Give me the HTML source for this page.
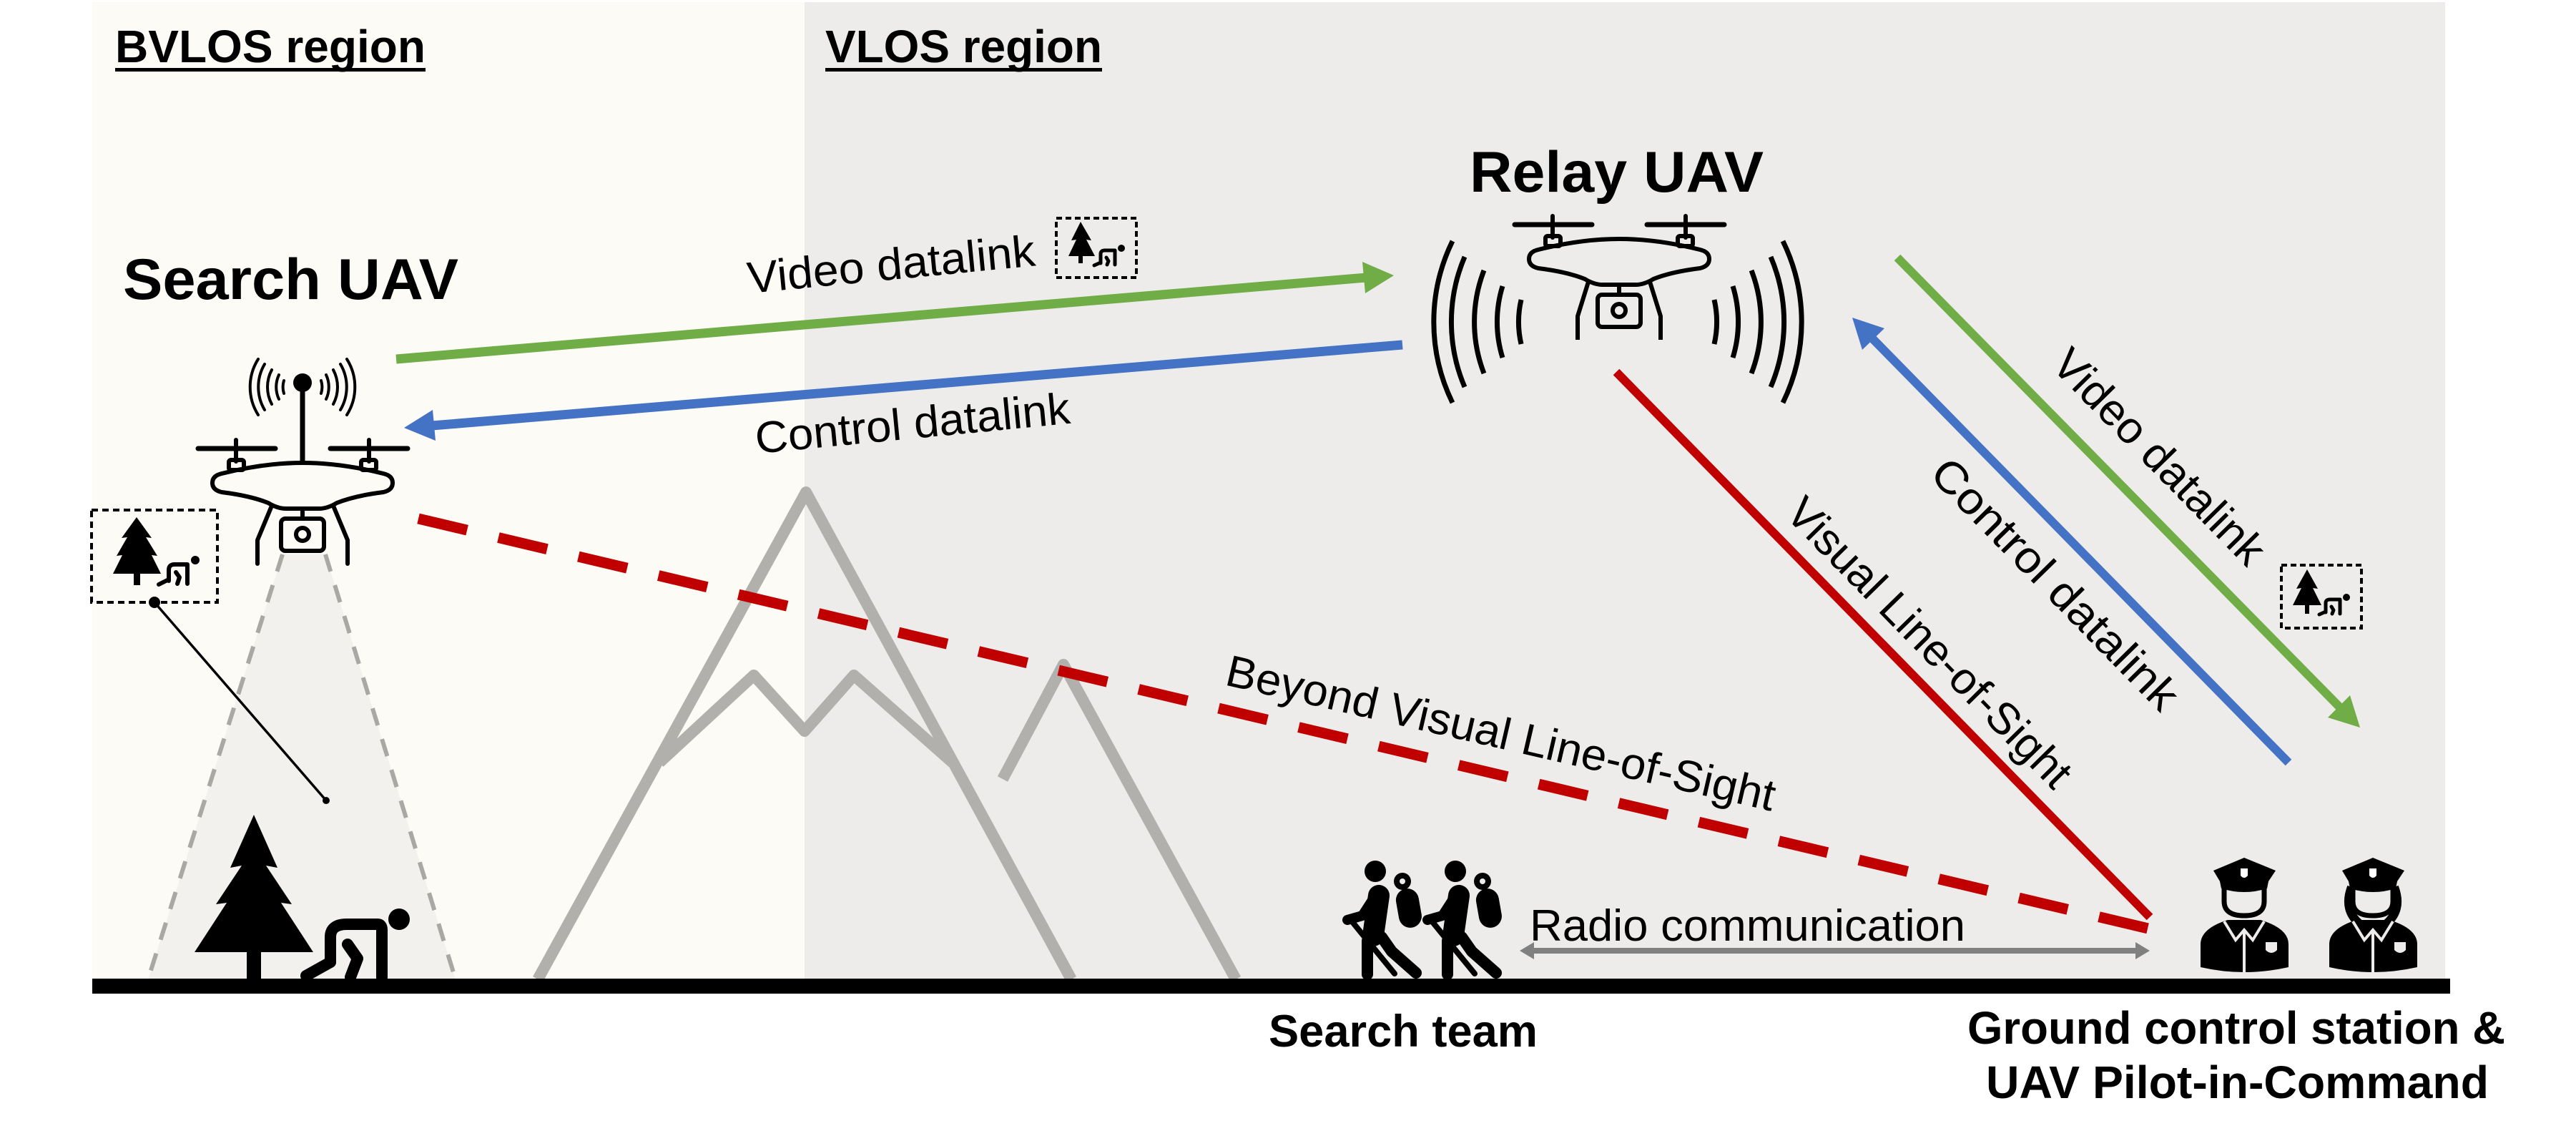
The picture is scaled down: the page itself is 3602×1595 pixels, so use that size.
<!DOCTYPE html>
<html><head><meta charset="utf-8"><style>
html,body{margin:0;padding:0;background:#fff;}
svg{display:block;}
text{font-family:"Liberation Sans",Arial,sans-serif;}
.b{font-weight:bold;}
</style></head><body>
<svg width="3602" height="1595" viewBox="0 0 3602 1595" xmlns="http://www.w3.org/2000/svg">
<rect x="129" y="3" width="996" height="1370" fill="#fdfbf5"/>
<rect x="1125" y="3" width="2294" height="1370" fill="#edecea"/>

<text x="161" y="87" class="b" font-size="64" textLength="434" lengthAdjust="spacingAndGlyphs">BVLOS region</text>
<rect x="161" y="95" width="434" height="5" fill="#000"/>
<text x="1154" y="87" class="b" font-size="64" textLength="387" lengthAdjust="spacingAndGlyphs">VLOS region</text>
<rect x="1154" y="95" width="387" height="5" fill="#000"/>

<polygon points="395,775 455,775 637,1369 207,1369" fill="#f2f1ed"/>
<line x1="395" y1="775" x2="207" y2="1369" stroke="#aaa8a5" stroke-width="6" stroke-dasharray="25 20"/>
<line x1="455" y1="775" x2="637" y2="1369" stroke="#aaa8a5" stroke-width="6" stroke-dasharray="25 20"/>

<g fill="none" stroke="#b1b0ac" stroke-width="16" stroke-linejoin="round" stroke-linecap="butt">
<polyline points="752,1369 1127,688 1498,1369"/>
<polyline points="922,1066 1054,944 1125,1022 1194,944 1332,1066"/>
<polyline points="1402,1089 1487,929 1728,1369"/>
</g>

<g fill="#000">
<polygon points="355,1139 388,1213 372,1210 408,1264 393,1262 438,1331 272,1331 317,1262 302,1264 338,1210 322,1213"/>
<rect x="345" y="1320" width="20" height="52"/>
</g>
<g fill="none" stroke="#000" stroke-width="16" stroke-linecap="round" stroke-linejoin="round">
<path d="M462,1345 L462,1310 Q462,1292 485,1292 L528,1292 Q534,1292 534,1300 L534,1366"/>
<path d="M462,1345 L428,1364"/>
<path d="M486,1320 L500,1340 L490,1366"/>
</g>
<circle cx="558" cy="1285" r="15" fill="#000"/>

<rect x="128" y="713" width="176" height="129" fill="none" stroke="#000" stroke-width="4" stroke-dasharray="9 6"/>
<g fill="#000">
<polygon points="191,723 212,752 204,751 220,777 212,776 225,802 158,802 171,776 163,777 178,751 170,752"/>
<rect x="187" y="798" width="9" height="20"/>
<circle cx="273" cy="783" r="6"/>
</g>
<g fill="none" stroke="#000" stroke-width="6" stroke-linecap="round" stroke-linejoin="round">
<path d="M236,812 L236,797 Q236,789 244,789 L262,789 L262,816"/>
<path d="M236,810 L222,817"/>
<path d="M246,800 L251,807 L248,816"/>
</g>
<line x1="216" y1="842" x2="456" y2="1119" stroke="#000" stroke-width="3.5"/>
<circle cx="216" cy="842" r="8" fill="#000"/>
<circle cx="456" cy="1119" r="5" fill="#000"/>

<g fill="none" stroke="#000" stroke-width="6" stroke-linecap="round" stroke-linejoin="round">
<line x1="277" y1="627" x2="385" y2="627" stroke-width="7"/>
<line x1="462" y1="627" x2="570" y2="627" stroke-width="7"/>
<line x1="330" y1="615" x2="330" y2="645"/>
<line x1="516" y1="615" x2="516" y2="645"/>
<rect x="320" y="643" width="21" height="14" rx="3"/>
<rect x="505" y="643" width="21" height="14" rx="3"/>
<path d="M423,647 Q370,647 310,662 Q297,665 297,675 Q297,685 310,688 Q350,693 375,703 Q388,711 400,711 L446,711 Q458,711 471,703 Q496,693 536,688 Q549,685 549,675 Q549,665 536,662 Q476,647 423,647 Z"/>
<line x1="423" y1="711" x2="423" y2="725"/>
<rect x="393" y="725" width="60" height="45" rx="6"/>
<circle cx="423" cy="747" r="9"/>
<path d="M380,707 L360,755 L360,788"/>
<path d="M466,707 L486,755 L486,788"/>
</g>
<line x1="423" y1="535" x2="423" y2="647" stroke="#000" stroke-width="7"/>
<circle cx="423" cy="535" r="13" fill="#000"/>
<g fill="none" stroke="#000" stroke-width="4" stroke-linecap="round">
<path d="M361,502 A73,73 0 0 0 361,580"/>
<path d="M370,509 A63,63 0 0 0 370,573"/>
<path d="M380,517 A51,51 0 0 0 380,565"/>
<path d="M390,524 A40,40 0 0 0 390,558"/>
<path d="M397,532 A30,30 0 0 0 397,550"/>
<path d="M485,502 A73,73 0 0 1 485,580"/>
<path d="M476,509 A63,63 0 0 1 476,573"/>
<path d="M466,517 A51,51 0 0 1 466,565"/>
<path d="M456,524 A40,40 0 0 1 456,558"/>
<path d="M449,532 A30,30 0 0 1 449,550"/>
</g>

<g transform="translate(1841,-313)" fill="none" stroke="#000" stroke-width="6" stroke-linecap="round" stroke-linejoin="round">
<line x1="277" y1="627" x2="385" y2="627" stroke-width="7"/>
<line x1="462" y1="627" x2="570" y2="627" stroke-width="7"/>
<line x1="330" y1="615" x2="330" y2="645"/>
<line x1="516" y1="615" x2="516" y2="645"/>
<rect x="320" y="643" width="21" height="14" rx="3"/>
<rect x="505" y="643" width="21" height="14" rx="3"/>
<path d="M423,647 Q370,647 310,662 Q297,665 297,675 Q297,685 310,688 Q350,693 375,703 Q388,711 400,711 L446,711 Q458,711 471,703 Q496,693 536,688 Q549,685 549,675 Q549,665 536,662 Q476,647 423,647 Z"/>
<line x1="423" y1="711" x2="423" y2="725"/>
<rect x="393" y="725" width="60" height="45" rx="6"/>
<circle cx="423" cy="747" r="9"/>
<path d="M380,707 L365,755 L365,788" stroke-linecap="butt"/>
<path d="M466,707 L481,755 L481,788" stroke-linecap="butt"/>
</g>
<g fill="none" stroke="#000" stroke-width="7">
<path d="M2031,337 A257,257 0 0 0 2031,563"/>
<path d="M2048,359 A232,232 0 0 0 2048,541"/>
<path d="M2075,378 A200,200 0 0 0 2075,522"/>
<path d="M2101,400 A169,169 0 0 0 2101,500"/>
<path d="M2127,419 A138,138 0 0 0 2127,481"/>
<path d="M2493,337 A257,257 0 0 1 2493,563"/>
<path d="M2476,359 A232,232 0 0 1 2476,541"/>
<path d="M2449,378 A200,200 0 0 1 2449,522"/>
<path d="M2423,400 A169,169 0 0 1 2423,500"/>
<path d="M2397,419 A138,138 0 0 1 2397,481"/>
</g>

<text x="172" y="418" class="b" font-size="81" textLength="469" lengthAdjust="spacingAndGlyphs">Search UAV</text>
<text x="2055" y="268" class="b" font-size="81" textLength="411" lengthAdjust="spacingAndGlyphs">Relay UAV</text>

<line x1="554" y1="502" x2="1910" y2="388" stroke="#70ad47" stroke-width="13"/>
<polygon points="1949,385 1909,410 1905,366" fill="#70ad47"/>
<line x1="1961" y1="482" x2="604" y2="595" stroke="#4472c4" stroke-width="13"/>
<polygon points="565,598 609,616 605,573" fill="#4472c4"/>
<text transform="translate(1047,410) rotate(-5.5)" font-size="62" textLength="404" lengthAdjust="spacingAndGlyphs">Video datalink</text>
<text transform="translate(1058,634) rotate(-5.5)" font-size="62" textLength="442" lengthAdjust="spacingAndGlyphs">Control datalink</text>

<g transform="translate(1349,-408)">
<rect x="128" y="713" width="112" height="83" fill="none" stroke="#000" stroke-width="4" stroke-dasharray="8 5"/>
<polygon points="162,718 177,744 170,743 182,766 145,766 156,743 149,744" fill="#000"/>
<rect x="159" y="762" width="6" height="14" fill="#000"/>
<circle cx="219" cy="755" r="5" fill="#000"/>
<g fill="none" stroke="#000" stroke-width="5" stroke-linecap="round" stroke-linejoin="round">
<path d="M190,776 L190,763 Q190,758 196,758 L210,758 L210,778"/>
<path d="M190,775 L181,779"/>
<path d="M198,768 L201,773 L199,778"/>
</g>
</g>
<g transform="translate(3190,790)">
<rect x="0" y="0" width="112" height="88" fill="none" stroke="#000" stroke-width="4" stroke-dasharray="8 5"/>
<polygon points="36,6 51,33 44,32 56,56 16,56 28,32 21,33" fill="#000"/>
<rect x="33" y="52" width="6" height="16" fill="#000"/>
<circle cx="91" cy="45" r="5" fill="#000"/>
<g fill="none" stroke="#000" stroke-width="5" stroke-linecap="round" stroke-linejoin="round">
<path d="M62,66 L62,53 Q62,48 68,48 L82,48 L82,68"/>
<path d="M62,65 L53,69"/>
<path d="M70,58 L73,63 L71,68"/>
</g>
</g>

<line x1="585" y1="725" x2="3029" y2="1304" stroke="#c00000" stroke-width="15" stroke-dasharray="70 45"/>
<text transform="translate(1711,957) rotate(13)" font-size="62" textLength="786" lengthAdjust="spacingAndGlyphs">Beyond Visual Line-of-Sight</text>

<line x1="2260" y1="520" x2="3006" y2="1282" stroke="#c00000" stroke-width="12"/>
<line x1="3200" y1="1066" x2="2617" y2="472" stroke="#4472c4" stroke-width="12"/>
<polygon points="2590,444 2635,459 2604,489" fill="#4472c4"/>
<line x1="2653" y1="360" x2="3273" y2="990" stroke="#70ad47" stroke-width="12"/>
<polygon points="3300,1017 3255,1003 3286,972" fill="#70ad47"/>
<text transform="translate(2494,720) rotate(45.6)" font-size="62" textLength="540" lengthAdjust="spacingAndGlyphs">Visual Line-of-Sight</text>
<text transform="translate(2696,665) rotate(45.6)" font-size="62" textLength="465" lengthAdjust="spacingAndGlyphs">Control datalink</text>
<text transform="translate(2866,512) rotate(45.6)" font-size="62" textLength="395" lengthAdjust="spacingAndGlyphs">Video datalink</text>

<text x="2139" y="1315" font-size="62" textLength="609" lengthAdjust="spacingAndGlyphs">Radio communication</text>
<line x1="2140" y1="1329" x2="2990" y2="1329" stroke="#808080" stroke-width="8"/>
<polygon points="2125,1329 2145,1317 2145,1341" fill="#808080"/>
<polygon points="3006,1329 2986,1317 2986,1341" fill="#808080"/>

<g transform="translate(1860,1180)">
<circle cx="63" cy="38" r="15" fill="#000"/>
<g fill="none" stroke="#000" stroke-linecap="round" stroke-linejoin="round">
<path d="M68,72 L60,128" stroke-width="30"/>
<path d="M52,135 L52,182" stroke-width="16"/>
<path d="M72,130 L86,150 L120,180" stroke-width="16"/>
<path d="M58,80 L45,100 L24,106" stroke-width="14"/>
<path d="M32,110 L90,181" stroke-width="8"/>
</g>
<rect x="94" y="62" width="32" height="55" rx="16" fill="#000" transform="rotate(-10 110 90)"/>
<circle cx="101" cy="52" r="12" fill="#000"/>
<circle cx="101" cy="52" r="4" fill="#edecea"/>
</g>
<g transform="translate(1972,1180)">
<circle cx="63" cy="38" r="15" fill="#000"/>
<g fill="none" stroke="#000" stroke-linecap="round" stroke-linejoin="round">
<path d="M68,72 L60,128" stroke-width="30"/>
<path d="M52,135 L52,182" stroke-width="16"/>
<path d="M72,130 L86,150 L120,180" stroke-width="16"/>
<path d="M58,80 L45,100 L24,106" stroke-width="14"/>
<path d="M32,110 L90,181" stroke-width="8"/>
</g>
<rect x="94" y="62" width="32" height="55" rx="16" fill="#000" transform="rotate(-10 110 90)"/>
<circle cx="101" cy="52" r="12" fill="#000"/>
<circle cx="101" cy="52" r="4" fill="#edecea"/>
</g>

<g transform="translate(3060,1180)">
<path d="M35,37 L78,19 L122,37 L112,52 L110,62 Q78,72 46,62 L44,52 Z" fill="#000"/>
<path d="M73,34 L83,34 L83,44 Q78,50 73,44 Z" fill="#fff"/>
<path d="M50,60 L50,80 Q50,100 78,100 Q106,100 106,80 L106,60" fill="none" stroke="#000" stroke-width="7"/>
<path d="M17,172 L17,140 Q17,118 55,106 L101,106 Q140,118 140,140 L140,172 Q78,186 17,172 Z" fill="#000"/>
<g fill="none" stroke="#edecea" stroke-width="4">
<path d="M50,108 L66,134 L78,120 L90,134 L106,108"/>
<line x1="78" y1="120" x2="78" y2="184"/>
</g>
<path d="M108,137 L124,137 L124,148 Q116,156 108,148 Z" fill="#edecea"/>
</g>
<g transform="translate(3240,1180)">
<path d="M48,60 Q36,92 60,112 M108,60 Q120,92 96,112" fill="none" stroke="#000" stroke-width="12"/>
<path d="M35,37 L78,19 L122,37 L112,52 L110,62 Q78,72 46,62 L44,52 Z" fill="#000"/>
<path d="M73,34 L83,34 L83,44 Q78,50 73,44 Z" fill="#fff"/>
<path d="M50,60 L50,80 Q50,100 78,100 Q106,100 106,80 L106,60" fill="none" stroke="#000" stroke-width="7"/>
<path d="M17,172 L17,140 Q17,118 55,106 L101,106 Q140,118 140,140 L140,172 Q78,186 17,172 Z" fill="#000"/>
<g fill="none" stroke="#edecea" stroke-width="4">
<path d="M50,108 L66,134 L78,120 L90,134 L106,108"/>
<line x1="78" y1="120" x2="78" y2="184"/>
</g>
<path d="M108,137 L124,137 L124,148 Q116,156 108,148 Z" fill="#edecea"/>
</g>

<rect x="129" y="1368" width="3297" height="21" fill="#000"/>

<text x="1774" y="1463" class="b" font-size="63" textLength="376" lengthAdjust="spacingAndGlyphs">Search team</text>
<text x="2751" y="1459" class="b" font-size="64" textLength="752" lengthAdjust="spacingAndGlyphs">Ground control station &amp;</text>
<text x="2777" y="1535" class="b" font-size="64" textLength="703" lengthAdjust="spacingAndGlyphs">UAV Pilot-in-Command</text>
</svg>
</body></html>
